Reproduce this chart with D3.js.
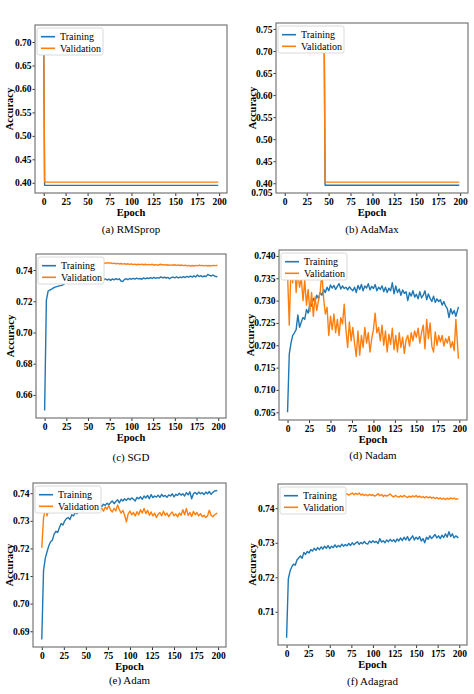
<!DOCTYPE html>
<html>
<head>
<meta charset="utf-8">
<script src="https://cdn.jsdelivr.net/npm/d3@7"></script>
<style>
  body { margin: 0; background: #fff; }
  svg { display: block; }
  text { font-family: "Liberation Serif", "DejaVu Serif", serif; }
  .tick text { font-family: "Liberation Serif", "DejaVu Serif", serif; font-weight: bold; font-size: 9.5px; fill: #000; }
  .tick line { stroke: #333; }
  .lbl { font-weight: bold; font-size: 10.5px; fill: #000; }
  .cap { font-size: 11px; fill: #000; }
  .leg { font-size: 10px; fill: #000; }
</style>
</head>
<body>
<svg id="chart" width="474" height="694"></svg>
<script>

// x categories: every second epoch, last point is epoch 199
const epochs = d3.range(0, 198, 2).concat([199]);
const xTicks = [0, 25, 50, 75, 100, 125, 150, 175, 200];

// (a) RMSprop - flat after the first epoch
const rmsEpochs = [0, 1, 199];
const rmsTrain = [0.7000, 0.3945, 0.3945];
const rmsVal = [0.7200, 0.4015, 0.4015];
const rmsTicks = [0.40, 0.45, 0.50, 0.55, 0.60, 0.65, 0.70];

// (b) AdaMax - drops at epoch 46
const adamaxEpochs = [0, 45, 46, 199];
const adamaxTrain = [0.7400, 0.7400, 0.3954, 0.3954];
const adamaxVal = [0.7460, 0.7460, 0.4025, 0.4025];
const adamaxTicks = [0.40, 0.45, 0.50, 0.55, 0.60, 0.65, 0.70, 0.75];
const adamaxStrayLabel = ['0.705'];

// (c) SGD
const sgdTrain = [
  0.6500, 0.7208, 0.7265, 0.7272, 0.7278, 0.7285, 0.7290, 0.7294, 0.7297, 0.7300,
  0.7302, 0.7310, 0.7316, 0.7320, 0.7322, 0.7325, 0.7327, 0.7330, 0.7328, 0.7332,
  0.7334, 0.7331, 0.7335, 0.7333, 0.7336, 0.7334, 0.7337, 0.7335, 0.7338, 0.7336,
  0.7339, 0.7337, 0.7340, 0.7342, 0.7338, 0.7344, 0.7336, 0.7342, 0.7334, 0.7343,
  0.7337, 0.7345, 0.7339, 0.7344, 0.7330, 0.7326, 0.7340, 0.7344, 0.7338, 0.7346,
  0.7341, 0.7347, 0.7342, 0.7348, 0.7343, 0.7346, 0.7341, 0.7350, 0.7344, 0.7349,
  0.7345, 0.7352, 0.7346, 0.7353, 0.7347, 0.7352, 0.7348, 0.7356, 0.7350, 0.7354,
  0.7349, 0.7353, 0.7344, 0.7352, 0.7355, 0.7350, 0.7357, 0.7349, 0.7355, 0.7351,
  0.7358, 0.7352, 0.7360, 0.7354, 0.7362, 0.7355, 0.7363, 0.7356, 0.7368, 0.7358,
  0.7364, 0.7356, 0.7362, 0.7358, 0.7372, 0.7366, 0.7362, 0.7368, 0.7360, 0.7357
];
const sgdVal = [
  0.7400, 0.7430, 0.7440, 0.7445, 0.7450, 0.7448, 0.7452, 0.7449, 0.7453, 0.7450,
  0.7455, 0.7451, 0.7453, 0.7448, 0.7452, 0.7447, 0.7450, 0.7446, 0.7449, 0.7445,
  0.7448, 0.7444, 0.7447, 0.7443, 0.7446, 0.7442, 0.7446, 0.7443, 0.7447, 0.7442,
  0.7446, 0.7441, 0.7445, 0.7442, 0.7446, 0.7443, 0.7447, 0.7444, 0.7446, 0.7441,
  0.7444, 0.7440, 0.7443, 0.7439, 0.7442, 0.7438, 0.7441, 0.7437, 0.7440, 0.7436,
  0.7439, 0.7435, 0.7438, 0.7434, 0.7437, 0.7435, 0.7438, 0.7434, 0.7437, 0.7433,
  0.7436, 0.7433, 0.7437, 0.7432, 0.7435, 0.7431, 0.7434, 0.7437, 0.7432, 0.7435,
  0.7431, 0.7434, 0.7430, 0.7433, 0.7431, 0.7434, 0.7430, 0.7433, 0.7429, 0.7432,
  0.7428, 0.7431, 0.7427, 0.7430, 0.7425, 0.7429, 0.7426, 0.7430, 0.7427, 0.7431,
  0.7428, 0.7430, 0.7427, 0.7430, 0.7426, 0.7429, 0.7427, 0.7430, 0.7428, 0.7429
];
const sgdTicks = [0.66, 0.68, 0.70, 0.72, 0.74];

// (d) Nadam
const nadamTrain = [
  0.7050, 0.7180, 0.7205, 0.7222, 0.7228, 0.7235, 0.7268, 0.7240, 0.7252, 0.7262,
  0.7258, 0.7280, 0.7272, 0.7292, 0.7288, 0.7305, 0.7298, 0.7312, 0.7305, 0.7318,
  0.7312, 0.7325, 0.7318, 0.7330, 0.7322, 0.7335, 0.7328, 0.7334, 0.7325, 0.7332,
  0.7338, 0.7326, 0.7333, 0.7327, 0.7330, 0.7324, 0.7331, 0.7326, 0.7322, 0.7330,
  0.7318, 0.7334, 0.7325, 0.7336, 0.7322, 0.7333, 0.7328, 0.7338, 0.7324, 0.7332,
  0.7327, 0.7336, 0.7322, 0.7330, 0.7325, 0.7333, 0.7320, 0.7330, 0.7318, 0.7328,
  0.7322, 0.7340, 0.7315, 0.7333, 0.7318, 0.7326, 0.7312, 0.7324, 0.7316, 0.7320,
  0.7300, 0.7318, 0.7310, 0.7322, 0.7308, 0.7314, 0.7304, 0.7320, 0.7306, 0.7312,
  0.7322, 0.7302, 0.7315, 0.7305, 0.7298, 0.7310, 0.7296, 0.7304, 0.7298, 0.7302,
  0.7290, 0.7298, 0.7288, 0.7282, 0.7262, 0.7282, 0.7270, 0.7278, 0.7265, 0.7286
];
const nadamVal = [
  0.7360, 0.7245, 0.7375, 0.7340, 0.7396, 0.7318, 0.7365, 0.7330, 0.7350, 0.7300,
  0.7345, 0.7290, 0.7325, 0.7275, 0.7318, 0.7265, 0.7308, 0.7278, 0.7300, 0.7320,
  0.7362, 0.7305, 0.7270, 0.7285, 0.7222, 0.7265, 0.7235, 0.7270, 0.7228, 0.7258,
  0.7222, 0.7262, 0.7248, 0.7292, 0.7235, 0.7195, 0.7252, 0.7210, 0.7240, 0.7205,
  0.7175, 0.7232, 0.7178, 0.7222, 0.7195, 0.7240, 0.7205, 0.7228, 0.7185, 0.7215,
  0.7235, 0.7272, 0.7228, 0.7240, 0.7210, 0.7245, 0.7200, 0.7232, 0.7185, 0.7225,
  0.7202, 0.7238, 0.7190, 0.7222, 0.7185, 0.7228, 0.7195, 0.7218, 0.7182, 0.7212,
  0.7222, 0.7198, 0.7228, 0.7210, 0.7232, 0.7218, 0.7238, 0.7205, 0.7228, 0.7245,
  0.7192, 0.7258, 0.7215, 0.7250, 0.7198, 0.7185, 0.7230, 0.7200, 0.7222, 0.7208,
  0.7222, 0.7198, 0.7215, 0.7205, 0.7220, 0.7195, 0.7208, 0.7188, 0.7258, 0.7170
];
const nadamTicks = [0.705, 0.710, 0.715, 0.720, 0.725, 0.730, 0.735, 0.740];

// (e) Adam
const adamTrain = [
  0.6870, 0.7120, 0.7165, 0.7188, 0.7210, 0.7224, 0.7230, 0.7252, 0.7262, 0.7258,
  0.7275, 0.7290, 0.7285, 0.7300, 0.7308, 0.7312, 0.7305, 0.7322, 0.7318, 0.7330,
  0.7326, 0.7338, 0.7332, 0.7342, 0.7336, 0.7345, 0.7340, 0.7348, 0.7343, 0.7350,
  0.7346, 0.7355, 0.7349, 0.7356, 0.7352, 0.7360, 0.7356, 0.7364, 0.7358, 0.7366,
  0.7372, 0.7362, 0.7370, 0.7376, 0.7365, 0.7378, 0.7372, 0.7380, 0.7374, 0.7382,
  0.7376, 0.7383, 0.7378, 0.7372, 0.7385, 0.7380, 0.7387, 0.7378, 0.7390, 0.7383,
  0.7392, 0.7380, 0.7395, 0.7384, 0.7390, 0.7386, 0.7393, 0.7385, 0.7396, 0.7388,
  0.7392, 0.7385, 0.7394, 0.7390, 0.7398, 0.7387, 0.7396, 0.7392, 0.7400, 0.7393,
  0.7398, 0.7390, 0.7402, 0.7394, 0.7405, 0.7380, 0.7398, 0.7403, 0.7396, 0.7404,
  0.7398, 0.7402, 0.7395, 0.7404, 0.7398, 0.7406, 0.7396, 0.7403, 0.7408, 0.7410
];
const adamVal = [
  0.7202, 0.7310, 0.7345, 0.7318, 0.7345, 0.7338, 0.7350, 0.7342, 0.7352, 0.7346,
  0.7355, 0.7348, 0.7350, 0.7344, 0.7352, 0.7347, 0.7354, 0.7345, 0.7350, 0.7342,
  0.7348, 0.7340, 0.7350, 0.7343, 0.7348, 0.7338, 0.7346, 0.7340, 0.7348, 0.7342,
  0.7350, 0.7340, 0.7348, 0.7338, 0.7346, 0.7335, 0.7350, 0.7342, 0.7355, 0.7340,
  0.7332, 0.7345, 0.7336, 0.7357, 0.7340, 0.7328, 0.7338, 0.7320, 0.7296, 0.7325,
  0.7335, 0.7322, 0.7330, 0.7318, 0.7333, 0.7322, 0.7340, 0.7328, 0.7345, 0.7326,
  0.7338, 0.7320, 0.7332, 0.7318, 0.7328, 0.7312, 0.7324, 0.7330, 0.7318, 0.7335,
  0.7320, 0.7328, 0.7315, 0.7326, 0.7332, 0.7318, 0.7325, 0.7314, 0.7328, 0.7320,
  0.7340, 0.7322, 0.7345, 0.7320, 0.7330, 0.7316, 0.7334, 0.7322, 0.7330, 0.7318,
  0.7326, 0.7315, 0.7320, 0.7312, 0.7318, 0.7338, 0.7320, 0.7315, 0.7322, 0.7328
];
const adamTicks = [0.69, 0.70, 0.71, 0.72, 0.73, 0.74];

// (f) Adagrad
const adagradTrain = [
  0.7025, 0.7195, 0.7218, 0.7230, 0.7238, 0.7235, 0.7250, 0.7256, 0.7262, 0.7255,
  0.7272, 0.7266, 0.7275, 0.7270, 0.7280, 0.7276, 0.7284, 0.7278, 0.7286, 0.7280,
  0.7288, 0.7282, 0.7290, 0.7284, 0.7292, 0.7283, 0.7290, 0.7286, 0.7294, 0.7287,
  0.7292, 0.7288, 0.7296, 0.7290, 0.7295, 0.7291, 0.7298, 0.7292, 0.7300, 0.7294,
  0.7299, 0.7303, 0.7295, 0.7301, 0.7297, 0.7304, 0.7298, 0.7296, 0.7305, 0.7300,
  0.7306, 0.7301, 0.7304, 0.7298, 0.7312, 0.7302, 0.7306, 0.7300, 0.7308, 0.7303,
  0.7310, 0.7304, 0.7309, 0.7302, 0.7311, 0.7305, 0.7314, 0.7306, 0.7316, 0.7308,
  0.7318, 0.7306, 0.7313, 0.7320, 0.7308, 0.7316, 0.7310, 0.7318, 0.7305, 0.7312,
  0.7300, 0.7316, 0.7310, 0.7320, 0.7312, 0.7318, 0.7324, 0.7314, 0.7320, 0.7312,
  0.7322, 0.7315, 0.7326, 0.7316, 0.7332, 0.7318, 0.7326, 0.7314, 0.7320, 0.7314
];
const adagradVal = [
  0.7445, 0.7449, 0.7444, 0.7447, 0.7442, 0.7446, 0.7443, 0.7447, 0.7441, 0.7445,
  0.7442, 0.7446, 0.7440, 0.7444, 0.7441, 0.7445, 0.7440, 0.7444, 0.7441, 0.7445,
  0.7440, 0.7443, 0.7439, 0.7444, 0.7440, 0.7443, 0.7439, 0.7442, 0.7440, 0.7444,
  0.7439, 0.7442, 0.7440, 0.7443, 0.7439, 0.7442, 0.7438, 0.7441, 0.7444, 0.7439,
  0.7443, 0.7440, 0.7444, 0.7438, 0.7441, 0.7437, 0.7440, 0.7436, 0.7440, 0.7437,
  0.7439, 0.7435, 0.7438, 0.7442, 0.7436, 0.7440, 0.7434, 0.7438, 0.7435, 0.7438,
  0.7441, 0.7436, 0.7433, 0.7437, 0.7434, 0.7432, 0.7436, 0.7433, 0.7437, 0.7434,
  0.7431, 0.7435, 0.7432, 0.7436, 0.7433, 0.7437, 0.7432, 0.7435, 0.7431, 0.7434,
  0.7430, 0.7434, 0.7430, 0.7433, 0.7429, 0.7432, 0.7428, 0.7431, 0.7427, 0.7430,
  0.7426, 0.7429, 0.7425, 0.7429, 0.7426, 0.7430, 0.7427, 0.7429, 0.7426, 0.7428
];
const adagradTicks = [0.71, 0.72, 0.73, 0.74];

const seriesNames = ['Training', 'Validation'];
const colors = ['#1f77b4', '#ff7f0e'];
const serif = '"Liberation Serif", "DejaVu Serif", serif';

// panel layout (pixel boxes of each axes frame)
const panels = [
  { caption: '(a) RMSprop', xs: rmsEpochs, train: rmsTrain, val: rmsVal, ticks: rmsTicks, fmt: '.2f',
    left: 35, top: 25, right: 227, bottom: 193, labelX: 9.5, capY: 229 },
  { caption: '(b) AdaMax', xs: adamaxEpochs, train: adamaxTrain, val: adamaxVal, ticks: adamaxTicks, fmt: '.2f',
    left: 276, top: 23, right: 468, bottom: 193, labelX: 252, capY: 229, stray: adamaxStrayLabel },
  { caption: '(c) SGD', xs: epochs, train: sgdTrain, val: sgdVal, ticks: sgdTicks, fmt: '.2f',
    left: 36, top: 254, right: 226, bottom: 418, labelX: 10, capY: 457 },
  { caption: '(d) Nadam', xs: epochs, train: nadamTrain, val: nadamVal, ticks: nadamTicks, fmt: '.3f',
    left: 279, top: 250, right: 467, bottom: 420, labelX: 250, capY: 455 },
  { caption: '(e) Adam', xs: epochs, train: adamTrain, val: adamVal, ticks: adamTicks, fmt: '.2f',
    left: 33, top: 483, right: 226, bottom: 647, labelX: 9.5, capY: 680 },
  { caption: '(f) Adagrad', xs: epochs, train: adagradTrain, val: adagradVal, ticks: adagradTicks, fmt: '.2f',
    left: 278, top: 484, right: 467, bottom: 645, labelX: 252, capY: 681 }
];

const svg = d3.select('#chart');

panels.forEach(drawPanel);

function drawPanel(p) {
  const g = svg.append('g');

  // scales: matplotlib style 5% margins
  const x = d3.scaleLinear().domain([-9.95, 208.95]).range([p.left, p.right]);
  const all = p.train.concat(p.val);
  const lo = d3.min(all), hi = d3.max(all);
  const pad = (hi - lo) * 0.05;
  const y = d3.scaleLinear().domain([lo - pad, hi + pad]).range([p.bottom, p.top]);

  // lines
  const line = d3.line()
    .x((d, i) => x(p.xs[i]))
    .y(d => y(d));

  [p.train, p.val].forEach((s, k) => {
    g.append('path')
      .datum(s)
      .attr('fill', 'none')
      .attr('stroke', colors[k])
      .attr('stroke-width', 1.4)
      .attr('stroke-linejoin', 'round')
      .attr('d', line);
  });

  // axes
  const yAxis = d3.axisLeft(y)
    .tickValues(p.ticks)
    .tickFormat(d3.format(p.fmt))
    .tickSize(2.5)
    .tickPadding(1);
  g.append('g')
    .attr('transform', `translate(${p.left},0)`)
    .call(yAxis)
    .attr('font-family', serif)
    .call(a => a.select('.domain').remove());

  const xAxis = d3.axisBottom(x)
    .tickValues(xTicks)
    .tickFormat(d3.format('d'))
    .tickSize(3)
    .tickPadding(2.5);
  g.append('g')
    .attr('transform', `translate(0,${p.bottom})`)
    .call(xAxis)
    .attr('font-family', serif)
    .call(a => a.select('.domain').remove());

  if (p.stray) {
    g.append('text')
      .attr('class', 'lbl')
      .attr('x', p.left - 3.5)
      .attr('y', p.bottom + 0.5)
      .attr('text-anchor', 'end')
      .attr('dominant-baseline', 'middle')
      .style('font-size', '9.5px')
      .text(p.stray[0]);
  }

  // frame
  g.append('rect')
    .attr('x', p.left)
    .attr('y', p.top)
    .attr('width', p.right - p.left)
    .attr('height', p.bottom - p.top)
    .attr('fill', 'none')
    .attr('stroke', '#777')
    .attr('stroke-width', 1.2);

  // legend
  const lg = g.append('g').attr('transform', `translate(${p.left + 2},${p.top + 3})`);
  lg.append('rect')
    .attr('width', 66)
    .attr('height', 27)
    .attr('rx', 2)
    .attr('fill', '#fff')
    .attr('stroke', '#d0d0d0')
    .attr('stroke-width', 0.8);
  seriesNames.forEach((name, k) => {
    const ly = 8.7 + k * 11.6;
    lg.append('line')
      .attr('x1', 4).attr('x2', 18)
      .attr('y1', ly).attr('y2', ly)
      .attr('stroke', colors[k])
      .attr('stroke-width', 1.6);
    lg.append('text')
      .attr('class', 'leg')
      .attr('x', 23)
      .attr('y', ly)
      .attr('dominant-baseline', 'central')
      .text(name);
  });

  // axis titles
  g.append('text')
    .attr('class', 'lbl')
    .attr('transform', `translate(${p.labelX},${(p.top + p.bottom) / 2}) rotate(-90)`)
    .attr('text-anchor', 'middle')
    .attr('dominant-baseline', 'central')
    .text('Accuracy');

  g.append('text')
    .attr('class', 'lbl')
    .attr('x', (p.left + p.right) / 2)
    .attr('y', p.bottom + 19.5)
    .attr('text-anchor', 'middle')
    .attr('dominant-baseline', 'central')
    .text('Epoch');

  // caption
  g.append('text')
    .attr('class', 'cap')
    .attr('x', (p.left + p.right) / 2)
    .attr('y', p.capY)
    .attr('text-anchor', 'middle')
    .attr('dominant-baseline', 'central')
    .text(p.caption);
}

</script>
</body>
</html>
